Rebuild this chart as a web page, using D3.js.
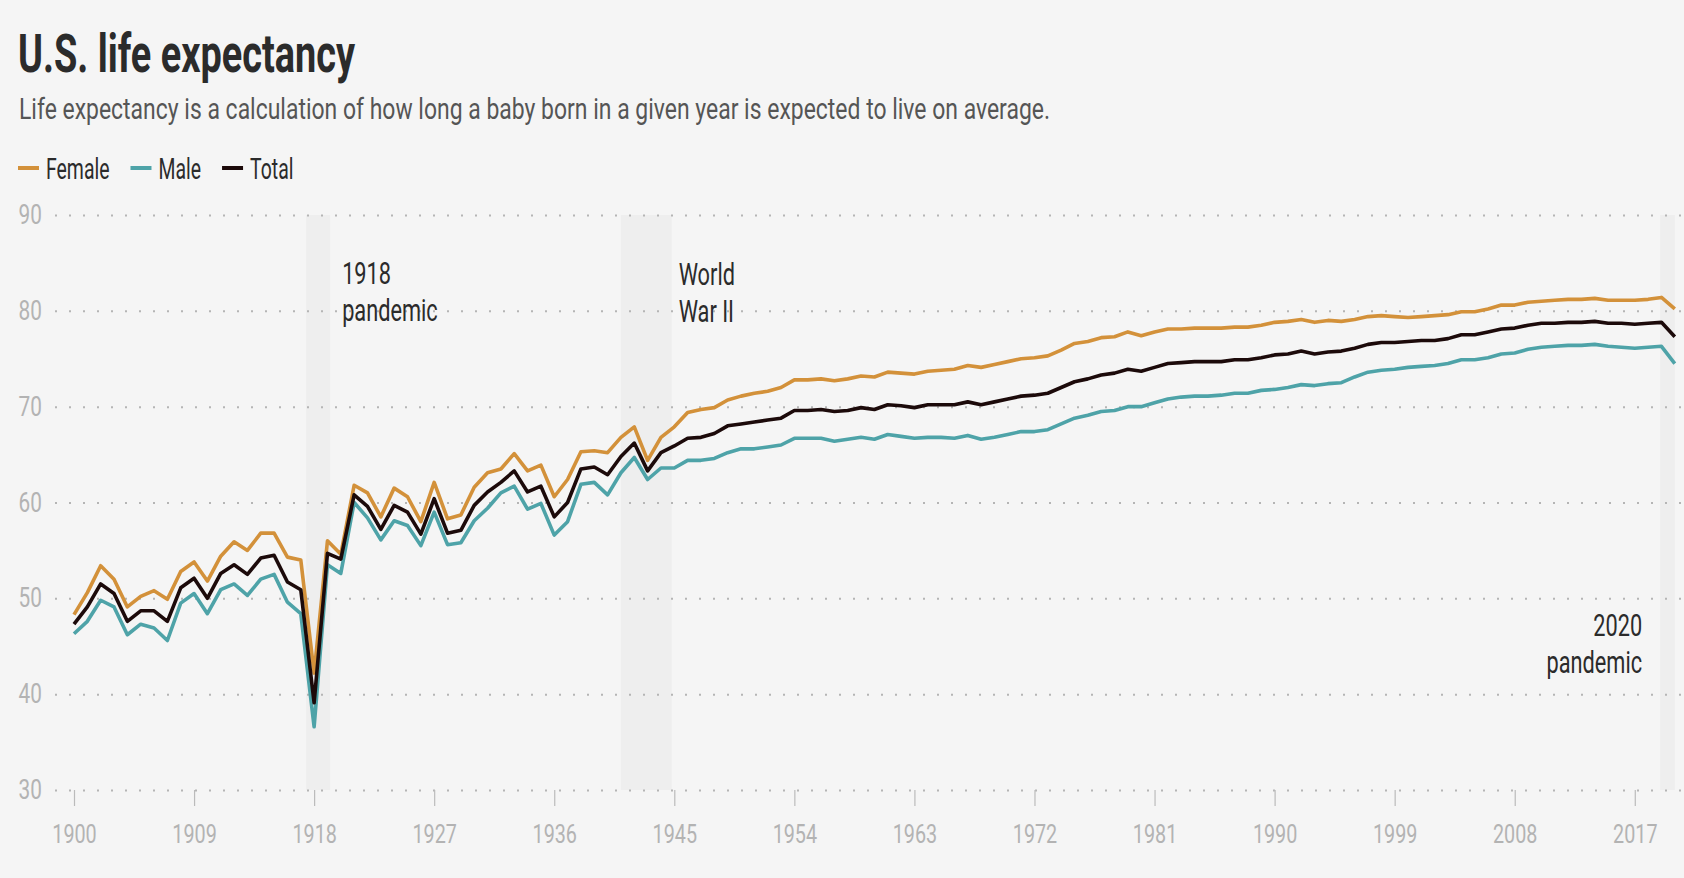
<!DOCTYPE html>
<html>
<head>
<meta charset="utf-8">
<script src="https://cdn.jsdelivr.net/npm/d3@7"></script>
<style>
    body { margin: 0; background: #f5f5f5; }
    svg text { font-family: Roboto, "Open Sans", sans-serif; }
</style>
</head>
<body>
<div id="chart"></div>
<script>

// life expectancy at birth, US, 1900-2020
var years = d3.range(1900, 2021);

var female = [
    48.3, 50.6, 53.4, 52.0, 49.1, 50.2, 50.8, 49.9, 52.8, 53.8,
    51.8, 54.4, 55.9, 55.0, 56.8, 56.8, 54.3, 54.0, 42.2, 56.0,
    54.6, 61.8, 61.0, 58.5, 61.5, 60.6, 58.0, 62.1, 58.3, 58.7,
    61.6, 63.1, 63.5, 65.1, 63.3, 63.9, 60.6, 62.4, 65.3, 65.4,
    65.2, 66.8, 67.9, 64.4, 66.8, 67.9, 69.4, 69.7, 69.9, 70.7,
    71.1, 71.4, 71.6, 72.0, 72.8, 72.8, 72.9, 72.7, 72.9, 73.2,
    73.1, 73.6, 73.5, 73.4, 73.7, 73.8, 73.9, 74.3, 74.1, 74.4,
    74.7, 75.0, 75.1, 75.3, 75.9, 76.6, 76.8, 77.2, 77.3, 77.8,
    77.4, 77.8, 78.1, 78.1, 78.2, 78.2, 78.2, 78.3, 78.3, 78.5,
    78.8, 78.9, 79.1, 78.8, 79.0, 78.9, 79.1, 79.4, 79.5, 79.4,
    79.3, 79.4, 79.5, 79.6, 79.9, 79.9, 80.2, 80.6, 80.6, 80.9,
    81.0, 81.1, 81.2, 81.2, 81.3, 81.1, 81.1, 81.1, 81.2, 81.4,
    80.2
];

var male = [
    46.3, 47.6, 49.8, 49.1, 46.2, 47.3, 46.9, 45.6, 49.5, 50.5,
    48.4, 50.9, 51.5, 50.3, 52.0, 52.5, 49.6, 48.4, 36.6, 53.5,
    52.6, 60.0, 58.4, 56.1, 58.1, 57.6, 55.5, 59.0, 55.6, 55.8,
    58.1, 59.4, 61.0, 61.7, 59.3, 59.9, 56.6, 58.0, 61.9, 62.1,
    60.8, 63.1, 64.7, 62.4, 63.6, 63.6, 64.4, 64.4, 64.6, 65.2,
    65.6, 65.6, 65.8, 66.0, 66.7, 66.7, 66.7, 66.4, 66.6, 66.8,
    66.6, 67.1, 66.9, 66.7, 66.8, 66.8, 66.7, 67.0, 66.6, 66.8,
    67.1, 67.4, 67.4, 67.6, 68.2, 68.8, 69.1, 69.5, 69.6, 70.0,
    70.0, 70.4, 70.8, 71.0, 71.1, 71.1, 71.2, 71.4, 71.4, 71.7,
    71.8, 72.0, 72.3, 72.2, 72.4, 72.5, 73.1, 73.6, 73.8, 73.9,
    74.1, 74.2, 74.3, 74.5, 74.9, 74.9, 75.1, 75.5, 75.6, 76.0,
    76.2, 76.3, 76.4, 76.4, 76.5, 76.3, 76.2, 76.1, 76.2, 76.3,
    74.5
];

var total = [
    47.3, 49.1, 51.5, 50.5, 47.6, 48.7, 48.7, 47.6, 51.1, 52.1,
    50.0, 52.6, 53.5, 52.5, 54.2, 54.5, 51.7, 50.9, 39.1, 54.7,
    54.1, 60.8, 59.6, 57.2, 59.7, 59.0, 56.7, 60.4, 56.8, 57.1,
    59.7, 61.1, 62.1, 63.3, 61.1, 61.7, 58.5, 60.0, 63.5, 63.7,
    62.9, 64.8, 66.2, 63.3, 65.2, 65.9, 66.7, 66.8, 67.2, 68.0,
    68.2, 68.4, 68.6, 68.8, 69.6, 69.6, 69.7, 69.5, 69.6, 69.9,
    69.7, 70.2, 70.1, 69.9, 70.2, 70.2, 70.2, 70.5, 70.2, 70.5,
    70.8, 71.1, 71.2, 71.4, 72.0, 72.6, 72.9, 73.3, 73.5, 73.9,
    73.7, 74.1, 74.5, 74.6, 74.7, 74.7, 74.7, 74.9, 74.9, 75.1,
    75.4, 75.5, 75.8, 75.5, 75.7, 75.8, 76.1, 76.5, 76.7, 76.7,
    76.8, 76.9, 76.9, 77.1, 77.5, 77.5, 77.8, 78.1, 78.2, 78.5,
    78.7, 78.7, 78.8, 78.8, 78.9, 78.7, 78.7, 78.6, 78.7, 78.8,
    77.3
];

var seriesNames = ['Female', 'Male', 'Total'];
var yTicks = [30, 40, 50, 60, 70, 80, 90];
var xTicks = [1900, 1909, 1918, 1927, 1936, 1945, 1954, 1963, 1972, 1981, 1990, 1999, 2008, 2017];

// shaded periods (years) and their notes
var bandYears = [[1917.4, 1919.2], [1941, 1944.8], [2018.9, 2020]];
var bandNotes = [['1918', 'pandemic'], ['World', 'War II'], ['2020', 'pandemic']];


var colours = ['#d3913a', '#4ea3a8', '#1c0a0a'];

var width = 1684, height = 878;

// squash text sideways, the original face is a condensed one
var squeeze = function (sel, k) {
    sel.each(function () {
        var w = this.getComputedTextLength();
        d3.select(this)
            .attr('textLength', w * k)
            .attr('lengthAdjust', 'spacingAndGlyphs');
    });
};

var svg = d3.select('#chart')
    .append('svg')
    .attr('width', width)
    .attr('height', height);

svg.append('rect')
    .attr('width', width)
    .attr('height', height)
    .attr('fill', '#f5f5f5');

// title, subtitle
svg.append('text')
    .attr('x', 18)
    .attr('y', 72)
    .attr('font-size', 53)
    .attr('font-weight', 700)
    .attr('fill', '#2b2b2b')
    .attr('textLength', 337)
    .attr('lengthAdjust', 'spacingAndGlyphs')
    .text('U.S. life expectancy');

svg.append('text')
    .attr('x', 19)
    .attr('y', 119)
    .attr('font-size', 29)
    .attr('fill', '#555')
    .attr('textLength', 1031)
    .attr('lengthAdjust', 'spacingAndGlyphs')
    .text('Life expectancy is a calculation of how long a baby born in a given year is expected to live on average.');

// legend
var lx = 18;
seriesNames.forEach(function (name, i) {
    var item = svg.append('g').attr('transform', 'translate(' + lx + ',168)');
    item.append('line')
        .attr('x1', 0)
        .attr('x2', 21)
        .attr('stroke', colours[i])
        .attr('stroke-width', 4);
    var t = item.append('text')
        .attr('x', 28)
        .attr('y', 11)
        .attr('font-size', 29)
        .attr('fill', '#2b2b2b')
        .text(name);
    squeeze(t, 0.67);
    lx += 28 + (+t.attr('textLength')) + 21;
});


var x = d3.scaleLinear()
    .domain([1900, 2020])
    .range([74, 1674.8]);

var y = d3.scaleLinear()
    .domain([30, 90])
    .range([790, 215]);

// shaded periods
svg.append('g')
    .selectAll('rect')
    .data(bandYears)
    .enter()
    .append('rect')
    .attr('x', d => x(d[0]))
    .attr('width', d => x(d[1]) - x(d[0]))
    .attr('y', y(90))
    .attr('height', y(30) - y(90))
    .attr('fill', '#eeeeee');

// dotted grid + y labels
var yAxis = svg.append('g')
    .attr('class', 'y axis')
    .attr('transform', 'translate(55,0)')
    .call(d3.axisLeft(y).tickValues(yTicks).tickSize(-(width - 55)).tickPadding(13));

yAxis.select('.domain').remove();
yAxis.selectAll('.tick line')
    .attr('stroke', '#b5b5b5')
    .attr('stroke-width', 2)
    .attr('stroke-dasharray', '2,12');
yAxis.selectAll('.tick text')
    .attr('font-size', 27)
    .attr('font-family', 'Roboto')
    .attr('fill', '#b3b3b3')
    .call(squeeze, 0.77);

var xAxis = svg.append('g')
    .attr('class', 'x axis')
    .attr('transform', 'translate(0,790)')
    .call(d3.axisBottom(x).tickValues(xTicks).tickFormat(d3.format('d')).tickSize(16).tickPadding(19));

xAxis.select('.domain').remove();
xAxis.selectAll('.tick line')
    .attr('stroke', '#bbb')
    .attr('stroke-width', 1.2);
xAxis.selectAll('.tick text')
    .attr('font-size', 26)
    .attr('font-family', 'Roboto')
    .attr('fill', '#b3b3b3')
    .call(squeeze, 0.76);

// the three lines
var line = d3.line()
    .x((d, i) => x(years[i]))
    .y(d => y(d));

svg.append('g')
    .selectAll('path')
    .data([female, male, total])
    .enter()
    .append('path')
    .attr('d', line)
    .attr('fill', 'none')
    .attr('stroke', (d, i) => colours[i])
    .attr('stroke-width', 3.6)
    .attr('stroke-linejoin', 'round');

// notes next to the shaded periods
var notes = svg.append('g').attr('font-size', 32).attr('fill', '#2b2b2b');

bandNotes.forEach(function (lines, i) {
    var last = i == bandNotes.length - 1;
    var tx = last ? x(bandYears[i][0]) - 18 : x(bandYears[i][1]) + (i == 0 ? 12 : 7);
    var ty = last ? y(90) + 421 : y(90) + 69 + i;
    lines.forEach(function (s, j) {
        notes.append('text')
            .attr('transform', 'translate(' + tx + ',' + (ty + j * 37) + ') scale(0.68,1)')
            .attr('text-anchor', last ? 'end' : 'start')
            .text(s);
    });
});

</script>
</body>
</html>
